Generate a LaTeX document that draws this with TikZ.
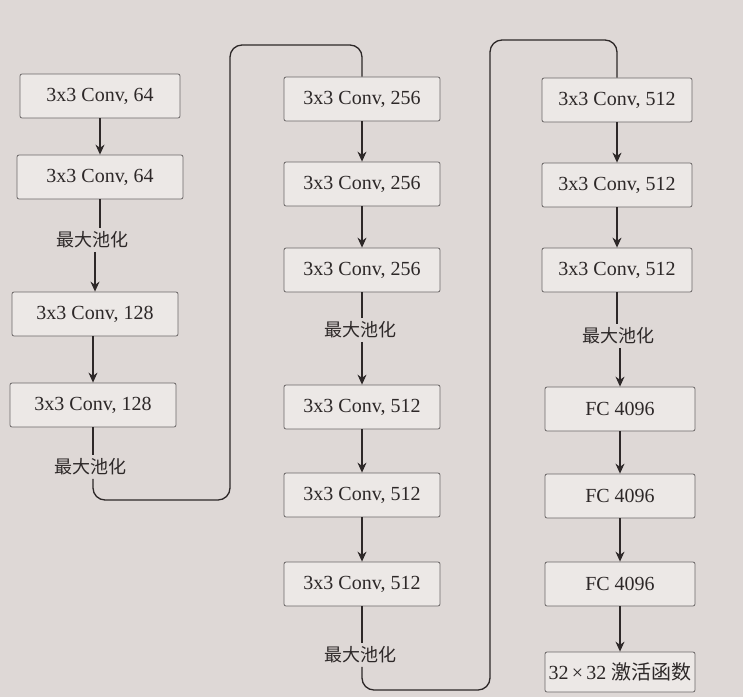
\documentclass[tikz,border=0pt]{standalone}
\usepackage{fontspec}
\setmainfont{Liberation Serif}
\newfontfamily\cjk{Noto Sans CJK SC}
\usetikzlibrary{arrows.meta}
\definecolor{paper}{RGB}{222,216,214}
\definecolor{boxfill}{RGB}{236,232,230}
\definecolor{ink}{RGB}{45,40,40}
\tikzset{
 lay/.style={draw=ink!70,fill=boxfill,rounded corners=2pt,minimum height=44pt,font=\fontsize{20}{22}\selectfont,text=ink,line width=0.8pt},
 pool/.style={font=\cjk\fontsize{18}{20}\selectfont,text=ink},
 arr/.style={-{Stealth[length=10pt,width=9pt]},ink,line width=1.3pt},
 wire/.style={ink,line width=1.3pt,rounded corners=12pt}
}
\begin{document}
\begin{tikzpicture}[x=1pt,y=-1pt]
\fill[paper] (0,0) rectangle (743,697);
\useasboundingbox (0,0) rectangle (743,697);
% column 1
\node[lay,minimum width=160pt] (a1) at (100,96) {3x3 Conv, 64};
\node[lay,minimum width=166pt] (a2) at (100,177) {3x3 Conv, 64};
\node[pool] (p1) at (92,240) {最大池化};
\node[lay,minimum width=166pt] (a3) at (95,314) {3x3 Conv, 128};
\node[lay,minimum width=166pt] (a4) at (93,405) {3x3 Conv, 128};
\node[pool] (p2) at (90,467) {最大池化};
\draw[arr] (a1) -- (a2);
\draw[arr] (p1.south -| 95,0) -- (a3.north);
\draw[arr] (a3.south -| 93,0) -- (a4.north);
\draw[wire] (a2.south) -- (p1.north -| a2.south);
% column 2
\node[lay,minimum width=156pt] (b1) at (362,99) {3x3 Conv, 256};
\node[lay,minimum width=156pt] (b2) at (362,184) {3x3 Conv, 256};
\node[lay,minimum width=156pt] (b3) at (362,270) {3x3 Conv, 256};
\node[pool] (p3) at (360,330) {最大池化};
\node[lay,minimum width=156pt] (b4) at (362,407) {3x3 Conv, 512};
\node[lay,minimum width=156pt] (b5) at (362,495) {3x3 Conv, 512};
\node[lay,minimum width=156pt] (b6) at (362,584) {3x3 Conv, 512};
\node[pool] (p4) at (360,655) {最大池化};
\draw[arr] (b1) -- (b2);
\draw[arr] (b2) -- (b3);
\draw[wire] (b3.south) -- (p3.north -| b3.south);
\draw[arr] (p3.south -| b4.north) -- (b4.north);
\draw[arr] (b4) -- (b5);
\draw[arr] (b5) -- (b6);
\draw[wire] (b6.south) -- (p4.north -| b6.south);
% column 3
\node[lay,minimum width=150pt] (c1) at (617,100) {3x3 Conv, 512};
\node[lay,minimum width=150pt] (c2) at (617,185) {3x3 Conv, 512};
\node[lay,minimum width=150pt] (c3) at (617,270) {3x3 Conv, 512};
\node[pool] (p5) at (618,336) {最大池化};
\node[lay,minimum width=150pt] (c4) at (620,409) {FC 4096};
\node[lay,minimum width=150pt] (c5) at (620,496) {FC 4096};
\node[lay,minimum width=150pt] (c6) at (620,584) {FC 4096};
\node[lay,minimum width=150pt,minimum height=40pt] (c7) at (620,672) {32\,×\,32 {\cjk 激活函数}};
\draw[arr] (c1) -- (c2);
\draw[arr] (c2) -- (c3);
\draw[wire] (c3.south) -- (p5.north -| c3.south);
\draw[arr] (p5.south -| c4.north) -- (c4.north);
\draw[arr] (c4) -- (c5);
\draw[arr] (c5) -- (c6);
\draw[arr] (c6) -- (c7);
% connectors between columns
\coordinate (j1) at (93,500);
\coordinate (j2) at (230,45);
\draw[wire] (a4.south) -- (p2.north -| a4.south);
\draw[wire] (p2.south -| a4.south) -- (j1) -- (j2 |- j1) -- (j2) -- (j2 -| b1) -- (b1.north);
\coordinate (k1) at (362,690);
\coordinate (k2) at (490,40);
\draw[wire] (p4.south -| b6.south) -- (k1) -- (k2 |- k1) -- (k2) -- (k2 -| c1) -- (c1.north);
\end{tikzpicture}
\end{document}
